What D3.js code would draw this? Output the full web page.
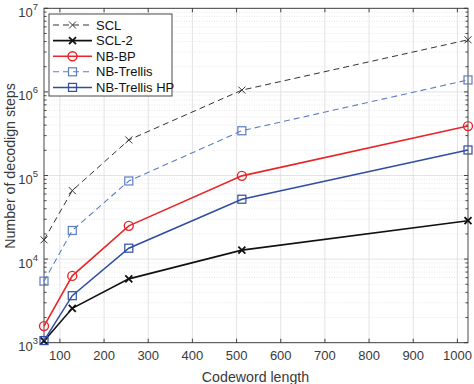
<!DOCTYPE html>
<html>
<head>
<meta charset="utf-8">
<script src="https://cdn.jsdelivr.net/npm/d3@7"></script>
<style>
    body { margin: 0; background: #fff; }
    svg { font-family: "Liberation Sans", Arial, sans-serif; }
    .tick-label { fill: #3a3a3a; font-size: 13px; }
    .axis-label { fill: #3a3a3a; font-size: 14.2px; }
    .legend-text { fill: #111; font-size: 13px; }
</style>
</head>
<body>
<script>
// Chart data
const codewordLengths = [64, 128, 256, 512, 1024];
const sclSteps = [17000, 66000, 266000, 1050000, 4200000];
const scl2Steps = [1050, 2580, 5800, 12800, 28800];
const nbBpSteps = [1580, 6300, 25000, 99000, 390000];
const nbTrellisSteps = [5450, 22000, 86000, 343000, 1390000];
const nbTrellisHpSteps = [1060, 3650, 13500, 52000, 202000];
const xTicks = [100, 200, 300, 400, 500, 600, 700, 800, 900, 1000];
const yTicks = [1e3, 1e4, 1e5, 1e6, 1e7];

const series = [
    { name: "SCL", values: sclSteps, color: "#333", dash: "6,4", width: 1, marker: "x" },
    { name: "SCL-2", values: scl2Steps, color: "#111", dash: null, width: 1.6, marker: "xb" },
    { name: "NB-BP", values: nbBpSteps, color: "#e8262b", dash: null, width: 1.6, marker: "circle" },
    { name: "NB-Trellis", values: nbTrellisSteps, color: "#5b7dc6", dash: "6,4", width: 1.1, marker: "square" },
    { name: "NB-Trellis HP", values: nbTrellisHpSteps, color: "#2f4da2", dash: null, width: 1.5, marker: "square" }
];

// Set chart dimensions
const width = 474;
const height = 384;
const margin = { top: 8.3, right: 6, bottom: 41.3, left: 44 };

const svg = d3.select("body")
    .append("svg")
    .attr("width", width)
    .attr("height", height);

const xScale = d3.scaleLinear()
    .domain([64, 1024])
    .range([margin.left, width - margin.right]);

const yScale = d3.scaleLog()
    .domain([1e3, 1e7])
    .range([height - margin.bottom, margin.top]);

const x0 = margin.left, x1 = width - margin.right;
const y0 = height - margin.bottom, y1 = margin.top;

// Minor y values (2..9 per decade)
const minorY = [];
for (let e = 3; e < 7; e++) {
    for (let m = 2; m <= 9; m++) minorY.push(m * Math.pow(10, e));
}

// Grid lines
const grid = svg.append("g");
grid.selectAll(".minor-y")
    .data(minorY)
    .join("line")
    .attr("x1", x0).attr("x2", x1)
    .attr("y1", d => yScale(d)).attr("y2", d => yScale(d))
    .attr("stroke", "#e2e2e2")
    .attr("stroke-width", 0.8)
    .attr("stroke-dasharray", "1,1.5");

grid.selectAll(".major-y")
    .data(yTicks)
    .join("line")
    .attr("x1", x0).attr("x2", x1)
    .attr("y1", d => yScale(d)).attr("y2", d => yScale(d))
    .attr("stroke", "#dcdcdc")
    .attr("stroke-width", 0.8);

grid.selectAll(".major-x")
    .data(xTicks)
    .join("line")
    .attr("x1", d => xScale(d)).attr("x2", d => xScale(d))
    .attr("y1", y0).attr("y2", y1)
    .attr("stroke", "#dcdcdc")
    .attr("stroke-width", 0.8);

// Axis frame
svg.append("rect")
    .attr("x", x0).attr("y", y1)
    .attr("width", x1 - x0).attr("height", y0 - y1)
    .attr("fill", "none")
    .attr("stroke", "#333")
    .attr("stroke-width", 0.9);

// Inward ticks
const ticks = svg.append("g").attr("stroke", "#333").attr("stroke-width", 0.9);
xTicks.forEach(v => {
    const x = xScale(v);
    ticks.append("line").attr("x1", x).attr("x2", x).attr("y1", y0).attr("y2", y0 - 4);
    ticks.append("line").attr("x1", x).attr("x2", x).attr("y1", y1).attr("y2", y1 + 4);
});
yTicks.concat(minorY).forEach(v => {
    const y = yScale(v);
    const len = yTicks.includes(v) ? 4 : 2.5;
    ticks.append("line").attr("x1", x0).attr("x2", x0 + len).attr("y1", y).attr("y2", y);
    ticks.append("line").attr("x1", x1).attr("x2", x1 - len).attr("y1", y).attr("y2", y);
});

// Tick labels
svg.selectAll(".xlab")
    .data(xTicks)
    .join("text")
    .attr("class", "tick-label")
    .attr("x", d => xScale(d))
    .attr("y", y0 + 17.5)
    .attr("text-anchor", "middle")
    .text(d => d);

const ylab = svg.selectAll(".ylab")
    .data(yTicks)
    .join("text")
    .attr("class", "tick-label")
    .attr("x", x0 - 6)
    .attr("y", d => yScale(d) + 8.5)
    .attr("text-anchor", "end");
ylab.append("tspan").text("10");
ylab.append("tspan")
    .attr("dy", -7)
    .attr("font-size", "9.5px")
    .text(d => Math.round(Math.log10(d)));

// Axis labels
svg.append("text")
    .attr("class", "axis-label")
    .attr("x", 255.5)
    .attr("y", 381.5)
    .attr("text-anchor", "middle")
    .text("Codeword length");

svg.append("text")
    .attr("class", "axis-label")
    .attr("transform", "translate(15, 166) rotate(-90)")
    .attr("text-anchor", "middle")
    .text("Number of decodign steps");

// Marker drawing
function drawMarker(g, type, color, x, y) {
    if (type === "circle") {
        g.append("circle").attr("cx", x).attr("cy", y).attr("r", 4.5)
            .attr("fill", "none").attr("stroke", color).attr("stroke-width", 1.4);
    } else if (type === "square") {
        g.append("rect").attr("x", x - 4).attr("y", y - 4).attr("width", 8).attr("height", 8)
            .attr("fill", "none").attr("stroke", color).attr("stroke-width", 1.2);
    } else {
        const s = 3.5;
        const w = type === "xb" ? 1.8 : 1;
        g.append("path").attr("d", `M${x - s},${y - s}L${x + s},${y + s}M${x - s},${y + s}L${x + s},${y - s}`)
            .attr("stroke", color).attr("stroke-width", w);
    }
}

// Lines
const line = d3.line()
    .x(d => xScale(d[0]))
    .y(d => yScale(d[1]));

series.forEach(s => {
    const pts = codewordLengths.map((c, i) => [c, s.values[i]]);
    const g = svg.append("g");
    g.append("path")
        .datum(pts)
        .attr("d", line)
        .attr("fill", "none")
        .attr("stroke", s.color)
        .attr("stroke-width", s.width)
        .attr("stroke-dasharray", s.dash);
    pts.forEach(p => drawMarker(g, s.marker, s.color, xScale(p[0]), yScale(p[1])));
});

// Legend
const legend = svg.append("g");
legend.append("rect")
    .attr("x", 49).attr("y", 14)
    .attr("width", 123).attr("height", 82)
    .attr("fill", "#fff")
    .attr("stroke", "#333")
    .attr("stroke-width", 0.9);

series.forEach((s, i) => {
    const y = 25 + i * 15.6;
    legend.append("line")
        .attr("x1", 53).attr("x2", 92)
        .attr("y1", y).attr("y2", y)
        .attr("stroke", s.color)
        .attr("stroke-width", s.width)
        .attr("stroke-dasharray", s.dash);
    drawMarker(legend, s.marker, s.color, 72.5, y);
    legend.append("text")
        .attr("class", "legend-text")
        .attr("x", 96)
        .attr("y", y + 4.5)
        .text(s.name);
});
</script>
</body>
</html>
